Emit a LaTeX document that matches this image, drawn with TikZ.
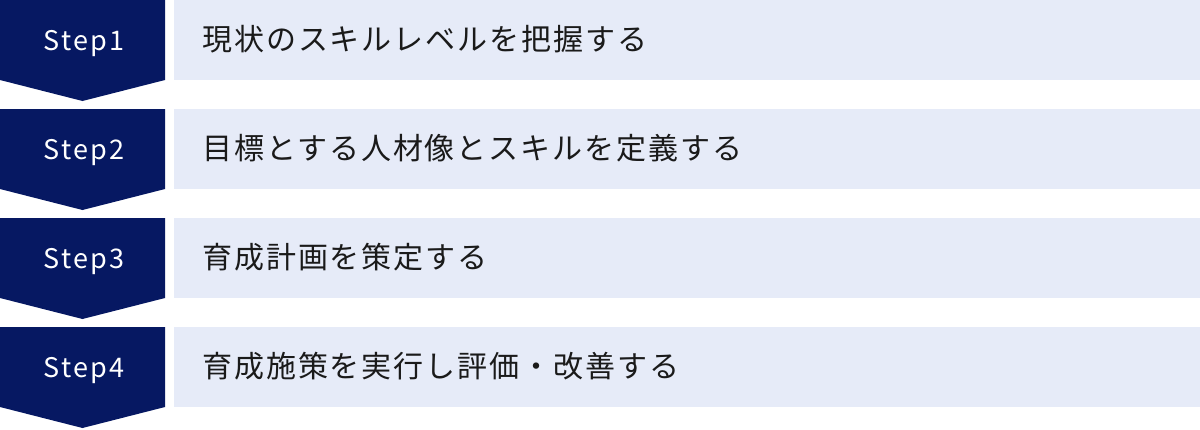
\documentclass[tikz,border=0pt]{standalone}
\usepackage{fontspec}
\setmainfont{Noto Sans CJK JP}
\definecolor{navy}{HTML}{061862}
\definecolor{barblue}{HTML}{E6EBF8}
\definecolor{ink}{HTML}{1A1A1A}
\tikzset{
  steplabel/.style={anchor=base,text=white,inner sep=0pt,font=\fontsize{27}{27}\selectfont\addfontfeatures{LetterSpace=8}},
  tasklabel/.style={anchor=base west,text=ink,inner sep=0pt,font=\fontsize{30}{30}\selectfont\addfontfeatures{LetterSpace=6.5}}
}
\begin{document}
\begin{tikzpicture}[x=1pt,y=-1pt]
\useasboundingbox (0,0) rectangle (1200,429);
\foreach \i/\t in {1/現状のスキルレベルを把握する,2/目標とする人材像とスキルを定義する,3/育成計画を策定する,4/育成施策を実行し評価・改善する}{
  \pgfmathsetmacro{\y}{(\i-1)*109}
  \fill[color=navy] (0,\y) -- (165,\y) -- (165,\y+80) -- (82.5,\y+101) -- (0,\y+80) -- cycle;
  \fill[color=barblue] (174,\y) rectangle (1200,\y+80);
  \node[steplabel] (step\i) at (84,\y+50) {Step\i};
  \node[tasklabel] (task\i) at (202,\y+50.5) {\t};
}
\end{tikzpicture}
\end{document}
